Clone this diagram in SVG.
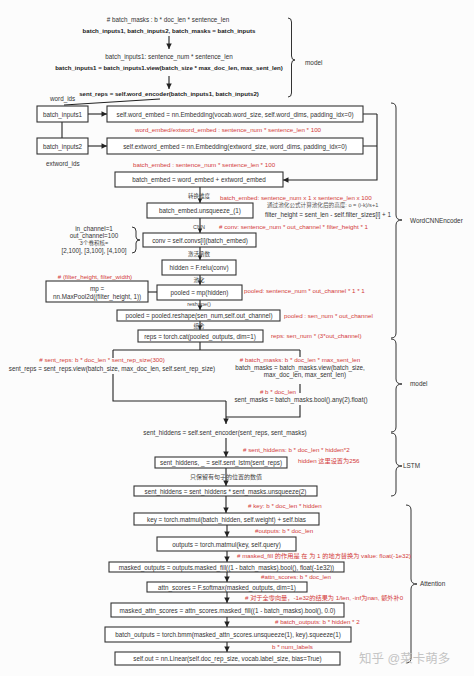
<svg xmlns="http://www.w3.org/2000/svg" width="474" height="676" viewBox="0 0 474 676">
<defs>
<marker id="ah" viewBox="0 0 10 10" refX="10" refY="5" markerWidth="7" markerHeight="5.5" markerUnits="userSpaceOnUse" orient="auto"><path d="M0,0 L10,5 L0,10 z" fill="#222"/></marker>
<marker id="as" viewBox="0 0 10 10" refX="10" refY="5" markerWidth="5" markerHeight="4.5" markerUnits="userSpaceOnUse" orient="auto"><path d="M0,0 L10,5 L0,10 z" fill="#222"/></marker>
</defs>
<style>
text{font-family:"Liberation Sans","Noto Sans CJK SC",sans-serif;font-size:6.3px;fill:#333}
.b{font-weight:bold;font-size:6.1px;fill:#1a1a1a}
.r{fill:#d33a3a;font-size:6.2px}
.c{text-anchor:middle}
.s{font-size:5.5px;fill:#444}
.g{font-size:5.6px;fill:#555}
.box{fill:#fff;stroke:#333;stroke-width:1.1}
.ln{fill:none;stroke:#222;stroke-width:1.1}
.br{fill:none;stroke:#333;stroke-width:1}
.lab{font-size:6.4px;fill:#333}
</style>
<rect width="474" height="676" fill="#fcfcfc"/>

<g id="connectors">
<path class="ln" d="M169,36 V49" marker-end="url(#ah)"/>
<path class="ln" d="M169,76 V89" marker-end="url(#ah)"/>
<path class="ln" d="M64,105 L160,99"/>
<path class="ln" d="M88,114 H107" marker-end="url(#ah)"/>
<path class="ln" d="M62,122 V138"/>
<path class="ln" d="M88,146 H107" marker-end="url(#ah)"/>
<path class="ln" d="M363,114 H377 M363,146 H377"/>
<path class="ln" d="M377,114 V180 H283" marker-end="url(#ah)"/>
<path class="ln" d="M200,187 V203" marker-end="url(#as)"/>
<path class="ln" d="M200,218 V233" marker-end="url(#as)"/>
<path class="ln" d="M200,247 V260" marker-end="url(#as)"/>
<path class="ln" d="M200,275 V285" marker-end="url(#as)"/>
<path class="ln" d="M200,300 V310" marker-end="url(#as)"/>
<path class="ln" d="M200,321 V330" marker-end="url(#as)"/>
<path class="ln" d="M148,292 H157"/>
<path class="ln" d="M200,342 V350 M113,350 H300 M113,350 V358 M300,350 V357 M300,384 V393"/>
<path class="ln" d="M113,374 V401 H226"/>
<path class="ln" d="M300,405 V417 H226"/>
<path class="ln" d="M226,401 V424" marker-end="url(#ah)"/>
<path class="ln" d="M226,438 V457" marker-end="url(#ah)"/>
<path class="ln" d="M226,468 V486" marker-end="url(#ah)"/>
<path class="ln" d="M226,496 V513" marker-end="url(#ah)"/>
<path class="ln" d="M227,525 V537" marker-end="url(#ah)"/>
<path class="ln" d="M227,551 V562" marker-end="url(#ah)"/>
<path class="ln" d="M227,572 V582" marker-end="url(#ah)"/>
<path class="ln" d="M227,592 V603" marker-end="url(#ah)"/>
<path class="ln" d="M227,617 V627" marker-end="url(#ah)"/>
<path class="ln" d="M227,642 V652" marker-end="url(#ah)"/>
</g>

<g id="braces">
<path class="br" d="M288,18 Q291.5,18 291.5,22 V56 Q291.5,60 295,60 Q291.5,60 291.5,64 V93 Q291.5,97 288,97"/>
<path class="br" d="M391,103 Q396,103 396,108 V215 Q396,220 402,220 Q396,220 396,225 V333 Q396,338 391,338"/>
<path class="br" d="M391,339 Q396,339 396,344 V379 Q396,384 402,384 Q396,384 396,389 V427 Q396,432 391,432"/>
<path class="br" d="M391,433 Q396,433 396,438 V461 Q396,466 402,466 Q396,466 396,471 V491 Q396,496 391,496"/>
<path class="br" d="M406,505 Q411,505 411,510 V579 Q411,584 417,584 Q411,584 411,589 V658 Q411,663 406,663"/>
<path class="br" d="M132,227 Q136,227 136,231 V237 Q136,240 140,240 Q136,240 136,243 V249 Q136,253 132,253"/>
<text class="lab" x="305" y="65">model</text>
<text class="lab" x="410" y="223">WordCNNEncoder</text>
<text class="lab" x="410" y="386">model</text>
<text class="lab" x="403" y="468">LSTM</text>
<text class="lab" x="420" y="586">Attention</text>
</g>

<g id="header">
<text class="c" x="168" y="22">#  batch_masks : b * doc_len * sentence_len</text>
<text class="b c" x="169" y="33">batch_inputs1, batch_inputs2, batch_masks = batch_inputs</text>
<text class="c" x="169" y="59">batch_inputs1: sentence_num * sentence_len</text>
<text class="b c" x="169" y="70">batch_inputs1 = batch_inputs1.view(batch_size * max_doc_len, max_sent_len)</text>
<text class="b c" x="169" y="96">sent_reps = self.word_encoder(batch_inputs1, batch_inputs2)</text>
<text x="50" y="101">word_ids</text>
<text x="46" y="166">extword_ids</text>
</g>

<g id="batch_inputs1"><rect class="box" x="37" y="106" width="51" height="16"/><text class="c" x="62.5" y="116.5">batch_inputs1</text></g>
<g id="batch_inputs2"><rect class="box" x="37" y="138" width="51" height="16"/><text class="c" x="62.5" y="148.5">batch_inputs2</text></g>
<g id="word_embed"><rect class="box" x="107" y="106" width="256" height="16"/><text class="c" x="235" y="116.5">self.word_embed = nn.Embedding(vocab.word_size, self.word_dims, padding_idx=0)</text></g>
<text class="r c" x="228" y="132">word_embed/extword_embed : sentence_num * sentence_len * 100</text>
<g id="extword_embed"><rect class="box" x="107" y="138" width="256" height="16"/><text class="c" x="235" y="148.5">self.extword_embed = nn.Embedding(extword_size, word_dims, padding_idx=0)</text></g>
<text class="r" x="133" y="167">batch_embed : sentence_num * sentence_len * 100</text>

<g id="batch_embed"><rect class="box" x="115" y="172" width="168" height="15"/><text class="c" x="199" y="182">batch_embed = word_embed + extword_embed</text></g>
<text class="s c" x="199" y="198">转换维度</text>
<text class="r" x="220" y="200">batch_embed: sentence_num x 1 x sentence_len x 100</text>
<g id="unsqueeze"><rect class="box" x="147" y="203" width="106" height="15"/><text class="c" x="200" y="213">batch_embed.unsqueeze_(1)</text></g>
<text class="g" x="267" y="207">通过池化公式计算池化后的高度: o = (i-k)/s+1</text>
<text x="265" y="216.5">filter_height = sent_len - self.filter_sizes[i] + 1</text>
<text class="s c" x="199" y="229">CNN</text>
<text class="r" x="219" y="229">#  conv:  sentence_num * out_channel * filter_height * 1</text>
<g id="conv_params">
<text class="c" x="94" y="231">in_channel=1</text>
<text class="c" x="94" y="238">out_channel=100</text>
<text class="s c" x="94" y="245">3个卷积核=</text>
<text class="c" x="94" y="252.5">[2,100], [3,100], [4,100]</text>
</g>
<g id="conv"><rect class="box" x="143" y="233" width="113" height="14"/><text class="c" x="200" y="242.5">conv = self.convs[i](batch_embed)</text></g>
<text class="s c" x="199" y="256">激活函数</text>
<g id="hidden"><rect class="box" x="162" y="260" width="74" height="15"/><text class="c" x="199" y="270">hidden = F.relu(conv)</text></g>
<text class="r c" x="95" y="279">#  (filter_height, filter_width)</text>
<text class="s c" x="199" y="282">池化</text>
<g id="mp"><rect class="box" x="46" y="281" width="102" height="21"/><text class="c" x="97" y="290.5">mp =</text><text class="c" x="97" y="298.5">nn.MaxPool2d((filter_height, 1))</text></g>
<g id="pooled"><rect class="box" x="157" y="285" width="85" height="15"/><text class="c" x="199.5" y="295">pooled = mp(hidden)</text></g>
<text class="r" x="244" y="293">pooled:  sentence_num * out_channel * 1 * 1</text>
<text class="s c" x="199" y="306">reshape()</text>
<g id="reshape"><rect class="box" x="117" y="310" width="163" height="11"/><text class="c" x="199" y="318">pooled = pooled.reshape(sen_num,self.out_channel)</text></g>
<text class="r" x="284" y="318">pooled :  sen_num * out_channel</text>
<text class="s c" x="199" y="328">组合</text>
<g id="reps"><rect class="box" x="138" y="330" width="125" height="12"/><text class="c" x="200" y="338.5">reps = torch.cat(pooled_outputs, dim=1)</text></g>
<text class="r" x="271" y="338">reps: sen_num * (3*out_channel)</text>

<g id="sent_reps_view">
<text class="r c" x="102" y="362">#  sent_reps:  b * doc_len * sent_rep_size(300)</text>
<text class="c" x="112" y="371">sent_reps = sent_reps.view(batch_size, max_doc_len, self.sent_rep_size)</text>
</g>
<g id="batch_masks_view">
<text class="r c" x="300" y="362">#  batch_masks:  b * doc_len * max_sent_len</text>
<text class="c" x="300" y="370">batch_masks = batch_masks.view(batch_size,</text>
<text class="c" x="305" y="377">max_doc_len, max_sent_len)</text>
<text class="r c" x="278" y="394">#  b * doc_len</text>
<text class="c" x="301" y="402">sent_masks = batch_masks.bool().any(2).float()</text>
</g>
<g id="sent_encoder"><text class="c" x="225" y="435">sent_hiddens = self.sent_encoder(sent_reps, sent_masks)</text></g>
<text class="r" x="243" y="452">#  sent_hiddens: b * doc_len * hidden*2</text>
<g id="sent_lstm"><rect class="box" x="155" y="457" width="132" height="11"/><text class="c" x="221" y="465">sent_hiddens, _ = self.sent_lstm(sent_reps)</text></g>
<text class="r" x="298" y="463">hidden 这里设置为256</text>
<text class="s c" x="226" y="479" style="font-size:6px">只保留有句子的位置的数值</text>
<g id="mask_hiddens"><rect class="box" x="134" y="486" width="183" height="10"/><text class="c" x="225.5" y="493.5">sent_hiddens = sent_hiddens * sent_masks.unsqueeze(2)</text></g>
<text class="r" x="248" y="508">#  key:    b * doc_len * hidden</text>
<g id="key"><rect class="box" x="134" y="513" width="185" height="12"/><text class="c" x="226.5" y="521.5">key = torch.matmul(batch_hidden, self.weight) + self.bias</text></g>
<text class="r" x="255" y="533">#outputs: b * doc_len</text>
<g id="outputs"><rect class="box" x="157" y="537" width="139" height="14"/><text class="c" x="226.5" y="546.5">outputs = torch.matmul(key, self.query)</text></g>
<text class="r" x="237" y="558">#  masked_fill 的作用是 在 为 1 的地方替换为 value: float(-1e32)</text>
<g id="masked_outputs"><rect class="box" x="109" y="562" width="235" height="10"/><text class="c" x="226.5" y="569.5">masked_outputs = outputs.masked_fill((1 - batch_masks).bool(), float(-1e32))</text></g>
<text class="r" x="261" y="579">#attn_scores:  b * doc_len</text>
<g id="attn_scores"><rect class="box" x="147" y="582" width="160" height="10"/><text class="c" x="227" y="589.5">attn_scores = F.softmax(masked_outputs, dim=1)</text></g>
<text class="r" x="245" y="600">#  对于全零向量，-1e32的结果为 1/len, -inf为nan, 额外补0</text>
<g id="masked_attn"><rect class="box" x="111" y="603" width="233" height="14"/><text class="c" x="227.5" y="612.5">masked_attn_scores = attn_scores.masked_fill((1 - batch_masks).bool(), 0.0)</text></g>
<text class="r" x="275" y="624">#  batch_outputs:   b * hidden * 2</text>
<g id="batch_outputs"><rect class="box" x="105" y="627" width="246" height="15"/><text class="c" x="228" y="637">batch_outputs = torch.bmm(masked_attn_scores.unsqueeze(1), key).squeeze(1)</text></g>
<text class="r" x="272" y="649">b * num_labels</text>
<g id="self_out"><rect class="box" x="115" y="652" width="225" height="13"/><text class="c" x="227.5" y="661">self.out = nn.Linear(self.doc_rep_size, vocab.label_size, bias=True)</text></g>
<text x="359" y="663" style="font-size:12.5px;fill:#c4c4c4">知乎 @菜卡萌多</text>
</svg>
